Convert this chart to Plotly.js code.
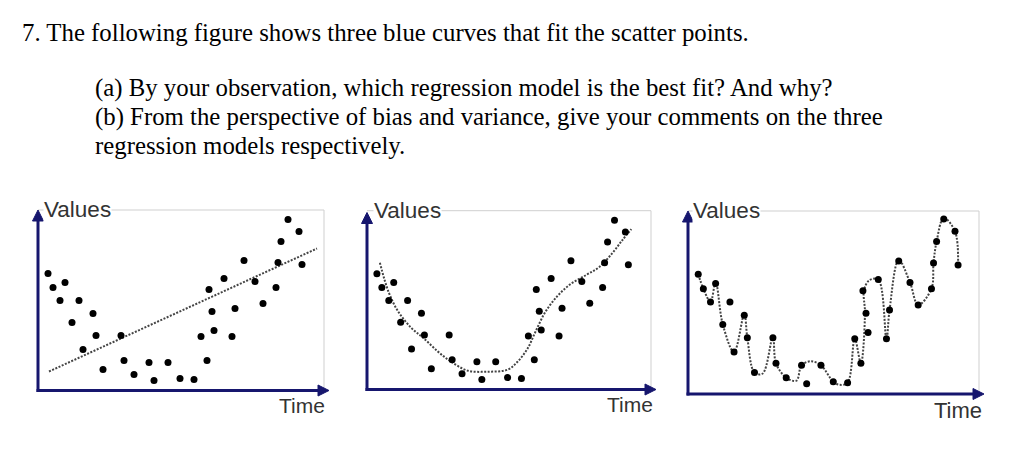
<!DOCTYPE html>
<html>
<head>
<meta charset="utf-8">
<script src="https://cdn.plot.ly/plotly-3.0.1.min.js"></script>
<style>html,body{margin:0;padding:0;background:#fff;}#chart{width:1024px;height:451px;}</style>
</head>
<body>
<div id="chart"></div>
<script>
// ---- text ----
const questionLine = "7. The following figure shows three blue curves that fit the scatter points.";
const subLines = [
  "(a) By your observation, which regression model is the best fit? And why?",
  "(b) From the perspective of bias and variance, give your comments on the three",
  "regression models respectively."
];
const yLabel = "Values";
const xLabel = "Time";

// ---- scatter points (same in all three panels) ----
const timeX   = [10,15,27,22,41,34,55,58,45,65,83,86,96,111,116,130,142,156,169,163,176,174,171,186,194,197,206,217,225,238,240,243,250,261,264];
const valuesY = [117,103,108,90,90,68,77,55,41,21,55,30,16,28,10,28,12,11,30,54,60,79,101,112,54,82,130,109,87,103,128,149,171,159,126];

// ---- model 1: linear fit ----
const linX = [11, 279];
const linY = [19, 142];

// ---- model 2: smooth curve ----
const curve2X = [13,22,32,45,57,72,85,102,122,142,152,162,170,180,192,205,222,235,248,258,267];
const curve2Y = [128,98,78,62,52,38,28,19,18,20,28,41,58,78,94,106,116,124,138,151,162];

// ---- model 3: wiggly curve through points ----
const curve3X = [10,15,22,27,34,45,55,58,65,73,83,86,96,106,111,120,130,142,148,156,163,169,173,172,177,186,194,197,206,217,225,238,240,243,250,261,264];
const curve3Y = [117,103,90,109,68,41,78,55,21,20,56,30,16,13,28,32,28,12,9,11,54,30,79,101,111,112,54,82,131,109,87,103,128,149,172,159,126];

const W = 1024, H = 451;
const px = x => x / W;
const py = y => 1 - y / H;

// panel geometry (pixels)
const panels = [
  {ox:38,  oy:390.5, yTip:210,   xTip:329, top:210,   right:324, s:1.0,   vx:45,  tx:326, ty:405.5, tf:21},
  {ox:367, oy:389.5, yTip:212.5, xTip:656, top:210.7, right:651, s:0.99,  vx:375, tx:654, ty:404,   tf:21},
  {ox:688, oy:394,   yTip:211,   xTip:984, top:211,   right:979, s:1.023, vx:694, tx:983, ty:410.5, tf:22}
];
const RX = 300, RY = 190;
const navy = '#16166e';
const gray = '#cfcfcf';

const layout = {
  width: W, height: H,
  margin: {l:0, r:0, t:0, b:0},
  paper_bgcolor: '#ffffff',
  plot_bgcolor: 'rgba(0,0,0,0)',
  showlegend: false,
  shapes: [],
  annotations: []
};

panels.forEach((p, i) => {
  const k = i === 0 ? '' : String(i + 1);
  layout['xaxis' + k] = {
    visible: false, range: [0, RX], fixedrange: true,
    domain: [px(p.ox), px(p.ox + p.s * RX)],
    anchor: 'y' + k
  };
  layout['yaxis' + k] = {
    visible: false, range: [0, RY], fixedrange: true,
    domain: [py(p.oy), py(p.oy - p.s * RY)],
    anchor: 'x' + k
  };
  const L = (x0, y0, x1, y1, color, width) => ({
    type: 'line', xref: 'paper', yref: 'paper',
    x0: px(x0), y0: py(y0), x1: px(x1), y1: py(y1),
    line: {color: color, width: width}, layer: 'below'
  });
  // gray box
  layout.shapes.push(L(p.ox, p.top, p.right, p.top, gray, 1));
  layout.shapes.push(L(p.right, p.top, p.right, p.oy, gray, 1));
  // axis shafts
  layout.shapes.push(Object.assign(L(p.ox, p.oy + 1.5, p.ox, p.yTip + 8, navy, 3), {layer: 'above'}));
  layout.shapes.push(Object.assign(L(p.ox - 1.5, p.oy, p.xTip - 8, p.oy, navy, 3), {layer: 'above'}));
  // arrowheads
  const path = pts => 'M' + pts.map(q => px(q[0]) + ',' + py(q[1])).join(' L') + ' Z';
  layout.shapes.push({type: 'path', xref: 'paper', yref: 'paper', layer: 'above',
    path: path([[p.ox - 5.5, p.yTip + 11], [p.ox, p.yTip], [p.ox + 5.5, p.yTip + 11]]),
    fillcolor: navy, line: {color: navy, width: 1}});
  layout.shapes.push({type: 'path', xref: 'paper', yref: 'paper', layer: 'above',
    path: path([[p.xTip - 11, p.oy - 5.5], [p.xTip, p.oy], [p.xTip - 11, p.oy + 5.5]]),
    fillcolor: navy, line: {color: navy, width: 1}});
  // labels
  layout.annotations.push({
    text: yLabel, xref: 'paper', yref: 'paper', x: px(p.vx - 2), y: py(p.top),
    xanchor: 'left', yanchor: 'middle', showarrow: false, bgcolor: '#ffffff', borderpad: 0,
    font: {family: 'Liberation Sans, Arial, sans-serif', size: 22.5, color: '#333333'}
  });
  layout.annotations.push({
    text: xLabel, xref: 'paper', yref: 'paper', x: px(p.tx), y: py(p.ty),
    xanchor: 'right', yanchor: 'middle', showarrow: false, borderpad: 0,
    font: {family: 'Liberation Sans, Arial, sans-serif', size: p.tf, color: '#333333'}
  });
});

// question text
const serif = {family: 'Liberation Serif, Times New Roman, serif', size: 24.8, color: '#000000'};
layout.annotations.push({
  text: questionLine, xref: 'paper', yref: 'paper', x: px(21), y: py(33),
  xanchor: 'left', yanchor: 'middle', showarrow: false, borderpad: 0, font: serif
});
const subY = [88, 117, 145];
subLines.forEach((t, i) => {
  layout.annotations.push({
    text: t, xref: 'paper', yref: 'paper', x: px(94), y: py(subY[i]),
    xanchor: 'left', yanchor: 'middle', showarrow: false, borderpad: 0, font: serif
  });
});

const lineStyle = {color: '#444444', width: 2, dash: '2px,1.5px'};
const markerStyle = {color: '#000000', size: 7};

const data = [];
const fits = [
  {x: linX, y: linY, shape: 'linear'},
  {x: curve2X, y: curve2Y, shape: 'spline'},
  {x: curve3X, y: curve3Y, shape: 'spline'}
];
fits.forEach((f, i) => {
  const k = i === 0 ? '' : String(i + 1);
  data.push({
    type: 'scatter', mode: 'lines', x: f.x, y: f.y,
    xaxis: 'x' + k, yaxis: 'y' + k, hoverinfo: 'skip',
    line: Object.assign({shape: f.shape, smoothing: 1}, lineStyle)
  });
  data.push({
    type: 'scatter', mode: 'markers', x: timeX, y: valuesY,
    xaxis: 'x' + k, yaxis: 'y' + k, hoverinfo: 'skip',
    marker: markerStyle, cliponaxis: false
  });
});

Plotly.newPlot('chart', data, layout, {displayModeBar: false, staticPlot: true});
</script>
</body>
</html>
